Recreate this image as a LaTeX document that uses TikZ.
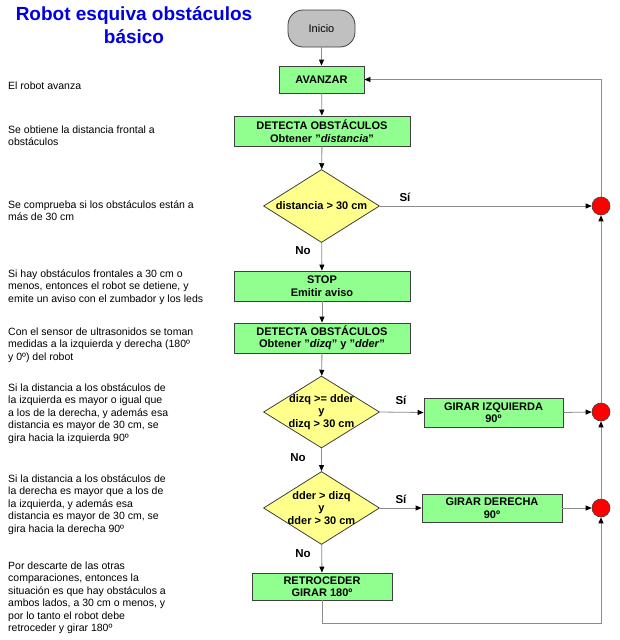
\documentclass[tikz,border=0pt]{standalone}
\usepackage{fontspec}
\setmainfont{Liberation Sans}
\usetikzlibrary{shapes.geometric,arrows.meta}
\definecolor{boxgreen}{RGB}{144,255,144}
\definecolor{diayellow}{RGB}{255,255,140}
\definecolor{startgray}{RGB}{192,192,192}
\definecolor{edgegray}{RGB}{64,64,64}
\definecolor{linegray}{RGB}{140,140,140}
\definecolor{titleblue}{RGB}{0,0,225}
\begin{document}
\begin{tikzpicture}[x=1pt,y=-1pt,
  boxtext/.style={font=\fontsize{11}{12.5}\selectfont\bfseries, align=center},
  procbox/.style={rectangle, draw=edgegray, line width=0.8pt, fill=boxgreen, inner sep=0pt, boxtext},
  startbox/.style={rectangle, rounded corners=15pt, draw=edgegray, line width=0.8pt, fill=startgray, inner sep=0pt, font=\fontsize{11}{12.5}\selectfont},
  decision/.style={diamond, draw=edgegray, line width=0.8pt, fill=diayellow, inner sep=0pt},
  joint/.style={circle, draw=edgegray, line width=0.6pt, fill=red, minimum size=18pt, inner sep=0pt},
  conn/.style={draw=linegray, line width=0.8pt, -{Triangle[length=6pt,width=5pt,color=black]}},
  branch/.style={font=\fontsize{11.5}{13}\selectfont\bfseries},
  note/.style={font=\fontsize{10.5}{12.5}\selectfont, align=left, anchor=base west, inner sep=0pt}
]
\useasboundingbox (0,0) rectangle (620,640);
\fill[white] (0,0) rectangle (620,640);

% title
\node[font=\fontsize{19}{23}\selectfont\bfseries, text=titleblue, align=center] (title) at (134,25) {Robot esquiva obstáculos\\básico};

% flow nodes
\node[startbox, minimum width=67pt, minimum height=37pt] (inicio) at (321.5,28.5) {Inicio};
\node[procbox, minimum width=85pt, minimum height=27pt] (avanzar) at (321.5,79.5) {AVANZAR};
\node[procbox, minimum width=176pt, minimum height=30pt] (det1) at (322,131) {DETECTA OBSTÁCULOS\\Obtener "\textit{distancia}"};
\node[decision, minimum width=116pt, minimum height=73pt] (d1) at (321.5,206) {};
\node[boxtext] (d1t) at (d1) {distancia > 30 cm};
\node[procbox, minimum width=176pt, minimum height=30pt] (stop) at (322,286) {STOP\\Emitir aviso};
\node[procbox, minimum width=176pt, minimum height=30pt] (det2) at (322,338) {DETECTA OBSTÁCULOS\\Obtener "\textit{dizq}" y "\textit{dder}"};
\node[decision, minimum width=116pt, minimum height=72pt] (d2) at (321.5,412) {};
\node[boxtext] (d2t) at (d2) {dizq >= dder\\y\\dizq > 30 cm};
\node[procbox, minimum width=139pt, minimum height=29pt] (gizq) at (493.5,412.5) {GIRAR IZQUIERDA\\90º};
\node[decision, minimum width=116pt, minimum height=73pt] (d3) at (321.5,508) {};
\node[boxtext] (d3t) at (d3) {dder > dizq\\y\\dder > 30 cm};
\node[procbox, minimum width=140pt, minimum height=28pt] (gder) at (492,508) {GIRAR DERECHA\\90º};
\node[procbox, minimum width=140pt, minimum height=27pt] (retro) at (322,586.5) {RETROCEDER\\GIRAR 180º};
\node[joint] (c1) at (601,206) {};
\node[joint] (c2) at (601,412) {};
\node[joint] (c3) at (601,508) {};

% connectors
\draw[conn] (inicio) -- (avanzar);
\draw[conn] (avanzar) -- (det1);
\draw[conn] (det1) -- (d1);
\draw[conn] (d1) -- (stop);
\draw[conn] (stop) -- (det2);
\draw[conn] (det2) -- (d2);
\draw[conn] (d2) -- (d3);
\draw[conn] (d3) -- (retro);
\draw[conn] (d1.east) -- (c1.west);
\draw[conn] (d2.east) -- (gizq.west);
\draw[conn] (gizq.east) -- (c2.west);
\draw[conn] (d3.east) -- (gder.west);
\draw[conn] (gder.east) -- (c3.west);
\draw[conn] (c3.north) -- (c2.south);
\draw[conn] (c2.north) -- (c1.south);
\draw[conn] (c1.north) |- (avanzar.east);
\draw[conn] (retro.south) -- ++(0,23) -| (c3.south);

% branch labels
\node[branch] (si1) at (405,197) {Sí};
\node[branch] (no1) at (303,251) {No};
\node[branch] (si2) at (401,400) {Sí};
\node[branch] (no2) at (298,458) {No};
\node[branch] (si3) at (401,499) {Sí};
\node[branch] (no3) at (303,554) {No};

% notes (anchored at the baseline of their last line)
\node[note] (n1) at (8,89) {El robot avanza};
\node[note] (n2) at (8,145.5) {Se obtiene la distancia frontal a\\obstáculos};
\node[note] (n3) at (8,220.5) {Se comprueba si los obstáculos están a\\más de 30 cm};
\node[note] (n4) at (8,302) {Si hay obstáculos frontales a 30 cm o\\menos, entonces el robot se detiene, y\\emite un aviso con el zumbador y los leds};
\node[note] (n5) at (8,360) {Con el sensor de ultrasonidos se toman\\medidas a la izquierda y derecha (180º\\y 0º) del robot};
\node[note] (n6) at (8,441) {Si la distancia a los obstáculos de\\la izquierda es mayor o igual que\\a los de la derecha, y además esa\\distancia es mayor de 30 cm, se\\gira hacia la izquierda 90º};
\node[note] (n7) at (8,532) {Si la distancia a los obstáculos de\\la derecha es mayor que a los de\\la izquierda, y además esa\\distancia es mayor de 30 cm, se\\gira hacia la derecha 90º};
\node[note] (n8) at (8,631.5) {Por descarte de las otras\\comparaciones, entonces la\\situación es que hay obstáculos a\\ambos lados, a 30 cm o menos, y\\por lo tanto el robot debe\\retroceder y girar 180º};
\end{tikzpicture}
\end{document}
